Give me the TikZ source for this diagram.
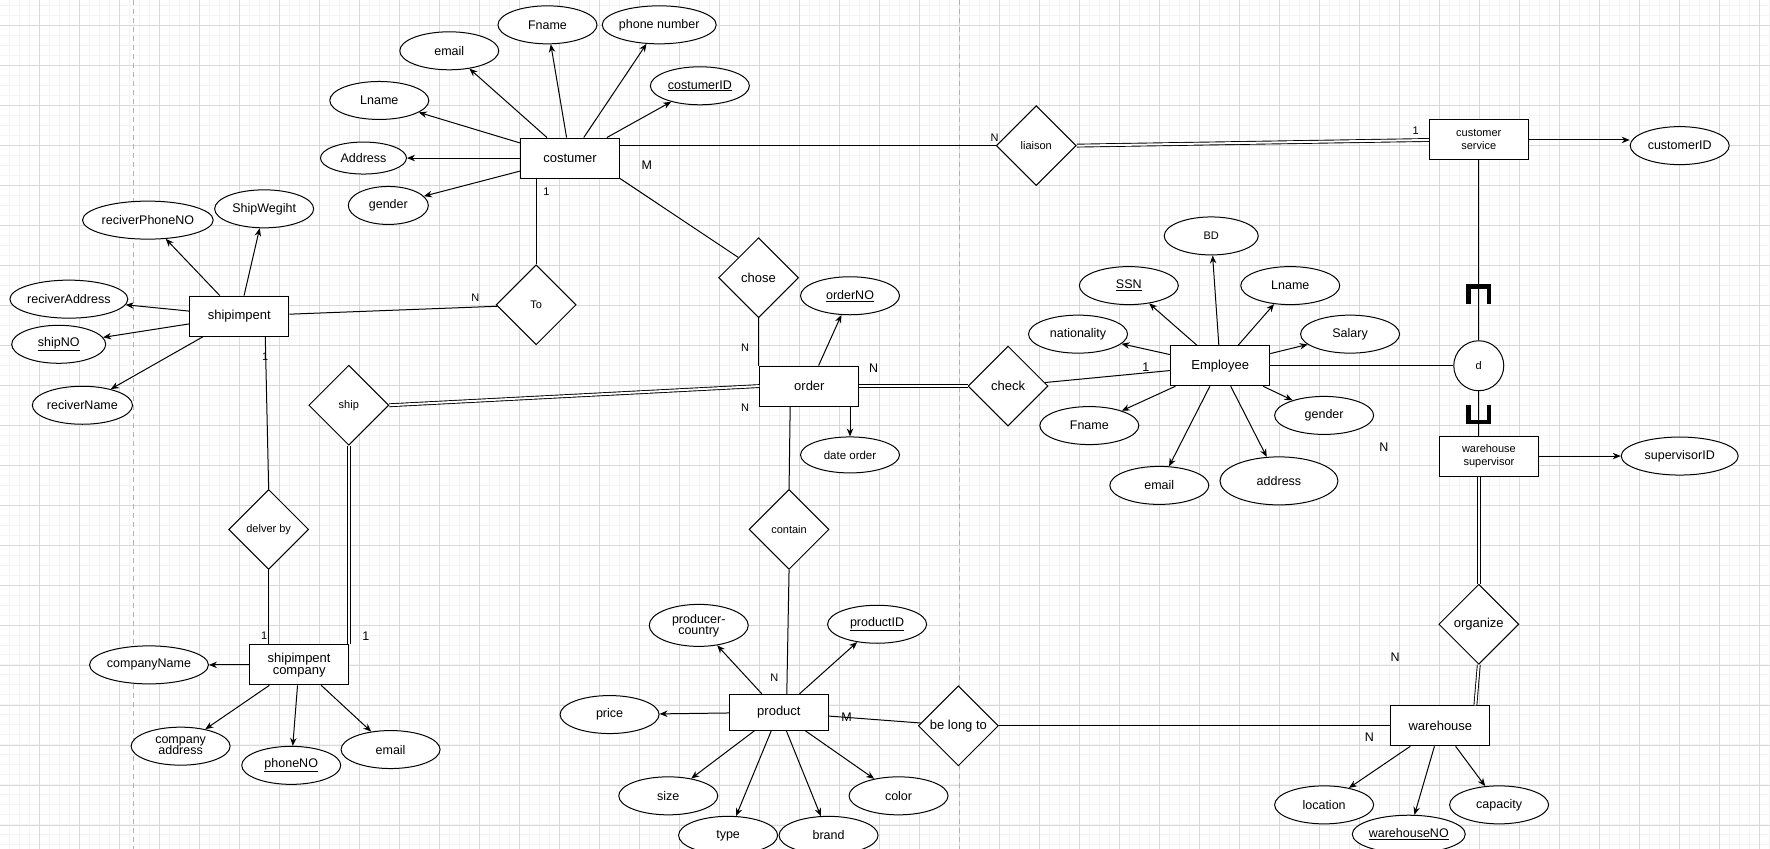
\documentclass[tikz,border=0pt]{standalone}
\usepackage{fontspec}
\setmainfont{Liberation Sans}
\usetikzlibrary{shapes.geometric,arrows.meta}
\begin{document}
\begin{tikzpicture}[x=1.1288pt,y=-1.1288pt,line width=1pt,
  ent/.style={draw,rectangle,fill=white,minimum width=99pt,minimum height=40pt,inner sep=1pt,font=\fontsize{13}{15}\selectfont,align=center},
  sent/.style={ent,font=\fontsize{11}{13}\selectfont},
  att/.style={draw,ellipse,fill=white,minimum width=99pt,minimum height=38pt,inner sep=0pt,font=\fontsize{12.5}{14}\selectfont,align=center},
  rel/.style={draw,diamond,fill=white,minimum width=80pt,minimum height=80pt,inner sep=0pt,font=\fontsize{13}{15}\selectfont},
  srel/.style={rel,font=\fontsize{11}{13}\selectfont},
  lab/.style={font=\fontsize{12.5}{14}\selectfont,inner sep=1pt},
  ar/.style={-{Stealth[length=8pt,width=6.5pt]}},
  dbl/.style={double,line width=0.9pt,double distance=2pt}]
\useasboundingbox (0,0) rectangle (1568,752);
\fill[white] (0,0) rectangle (1568,752);
\foreach \i in {0,...,177} \draw[gray!9,line width=0.4pt] ({\i*8.858-0.6},0) -- ({\i*8.858-0.6},752);
\foreach \i in {0,...,85} \draw[gray!9,line width=0.4pt] (0,{\i*8.858+4.2}) -- (1568,{\i*8.858+4.2});
\foreach \i in {0,...,45} \draw[gray!30,line width=0.6pt] ({\i*35.43-0.6},0) -- ({\i*35.43-0.6},752);
\foreach \i in {0,...,22} \draw[gray!30,line width=0.6pt] (0,{\i*35.43+22.1}) -- (1568,{\i*35.43+22.1});
\draw[gray!60,line width=1.2pt,dash pattern=on 5pt off 4pt] (118,0) -- (118,752);
\draw[gray!60,line width=1.2pt,dash pattern=on 5pt off 4pt] (850,0) -- (850,752);

% costumer
\node[ent] (cos) at (505,140) {costumer};
\node[att] (cfn) at (485,22) {Fname};
\node[att] (cph) at (584,22) {phone number};
\node[att] (cem) at (398,45) {email};
\node[att] (cid) at (620,76) {\underline{costumerID}};
\node[att] (cln) at (336,89) {Lname};
\node[att,minimum width=86pt,minimum height=32pt] (cad) at (322,140) {Address};
\node[att,minimum width=80pt] (cge) at (344,182) {gender};
\foreach \t in {cfn,cph,cem,cid,cln,cad,cge} \draw[ar] (cos) -- (\t);

% shipimpent
\node[ent] (shp) at (212,280) {shipimpent};
\node[att] (srp) at (131,195) {reciverPhoneNO};
\node[att] (ssw) at (234,185) {ShipWegiht};
\node[att] (sra) at (61,265) {reciverAddress};
\node[att,minimum width=94pt] (sno) at (52,305) {\underline{shipNO}};
\node[att] (srn) at (73,359) {reciverName};
\foreach \t in {srp,ssw,sra,sno,srn} \draw[ar] (shp) -- (\t);

% relations
\node[srel] (to) at (475,270) {To};
\node[rel] (chose) at (672,246) {chose};
\node[srel] (ship) at (309,359) {ship};
\node[srel] (dby) at (238,469) {delver by};
\node[rel] (check) at (893,342) {check};
\node[srel] (cont) at (699,469) {contain};
\node[srel] (lia) at (918,129) {liaison};
\node[rel] (blt) at (849,643) {be long to};
\node[rel] (org) at (1310,553) {organize};

% order
\node[ent] (ord) at (717,342) {order};
\node[att] (ono) at (753,262) {\underline{orderNO}};
\node[att,minimum height=36pt,font=\fontsize{11.5}{14}\selectfont] (odt) at (753,403) {date order};
\draw[ar] (ord) -- (ono);
\draw[ar] (ord.south -| odt.north) -- (odt);

% Employee
\node[ent] (emp) at (1081,324) {Employee};
\node[att,minimum width=94pt,font=\fontsize{11}{13}\selectfont] (ebd) at (1073,209) {BD};
\node[att] (essn) at (1000,253) {\underline{SSN}};
\node[att] (eln) at (1143,253) {Lname};
\node[att] (ena) at (955,296) {nationality};
\node[att] (esa) at (1196,296) {Salary};
\node[att] (efn) at (965,377) {Fname};
\node[att] (ege) at (1173,368) {gender};
\node[att] (eem) at (1027,430) {email};
\node[att,minimum width=118pt,minimum height=48pt] (ead) at (1133,426) {address};
\foreach \t in {ebd,essn,eln,ena,esa,efn,ege,eem,ead} \draw[ar] (emp) -- (\t);

% customer service etc.
\node[sent] (cs) at (1310,124) {customer\\service};
\node[att] (csid) at (1488,129) {customerID};
\draw[ar] (cs.east) -- (cs.east -| csid.west);
\node[draw,circle,fill=white,minimum size=50pt,inner sep=0pt,font=\fontsize{11}{13}\selectfont] (d) at (1310,324) {d};
\node[sent] (ws) at (1319,404) {warehouse\\supervisor};
\node[att,minimum width=117pt] (wsid) at (1488,404) {supervisorID};
\draw[ar] (ws) -- (wsid);

% warehouse
\node[ent] (wh) at (1276,643) {warehouse};
\node[att] (wloc) at (1173,713) {location};
\node[att] (wno) at (1248,739) {\underline{warehouseNO}};
\node[att] (wcap) at (1328,713) {capacity};
\foreach \t in {wloc,wno,wcap} \draw[ar] (wh) -- (\t);

% product
\node[ent,minimum height=36pt] (prd) at (690,631) {product};
\node[att,minimum height=42pt] (ppc) at (619,554) {producer-\\[-3pt]country};
\node[att] (pid) at (777,553) {\underline{productID}};
\node[att] (ppr) at (540,633) {price};
\node[att] (psz) at (592,705) {size};
\node[att] (pty) at (645,740) {type};
\node[att] (pbr) at (734,740) {brand};
\node[att] (pco) at (796,705) {color};
\foreach \t in {ppc,pid,ppr,psz,pty,pbr,pco} \draw[ar] (prd) -- (\t);

% shipimpent company
\node[ent] (sc) at (265,589) {shipimpent\\[-3pt]company};
\node[att] (scn) at (132,589) {companyName};
\node[att] (sca) at (160,661) {company\\[-3pt]address};
\node[att] (scp) at (258,678) {\underline{phoneNO}};
\node[att] (sce) at (346,664) {email};
\foreach \t in {scn,sca,scp,sce} \draw[ar] (sc) -- (\t);

% connectors
\draw (cos.east |- lia.west) -- (lia.west);
\draw[dbl] (lia.east) -- (cs.west);
\draw (cs) -- (d);
\draw (d) -- (ws.north -| d.south);
\draw (emp) -- (d);
\draw[line width=4.5pt] (1301,269) -- (1301,254) -- (1319,254) -- (1319,269);
\draw[line width=4.5pt] (1301,359) -- (1301,374) -- (1319,374) -- (1319,359);
\draw[dbl] (ws.south -| org.north) -- (org.north);
\draw[dbl] (org.south) -- (wh.north -| 1307,0);
\draw (wh) -- (blt);
\draw (blt) -- (prd);
\draw (prd.north -| 697,0) -- (cont.south);
\draw (cont.north) -- (ord.south -| 700,0);
\draw (ord.north -| chose.south) -- (chose.south);
\draw (chose.north west) -- (cos.south east);
\draw[dbl] (ord) -- (check);
\draw (check) -- (emp);
\draw[dbl] (ship.east) -- (ord.west);
\draw[dbl] (ship.south) -- (ship.south |- sc.north);
\draw (shp) -- (to);
\draw (to.north) -- (to.north |- cos.south);
\draw (shp.south -| 235,0) -- (dby.north);
\draw (dby.south) -- (dby.south |- sc.north);

% labels
\node[lab,font=\fontsize{11}{13}\selectfont] (l1) at (881,122) {N};
\node[lab,font=\fontsize{11}{13}\selectfont] (l2) at (1254,116) {1};
\node[lab] (l3) at (1226,396) {N};
\node[lab] (l4) at (1236,582) {N};
\node[lab] (l5) at (1213,653) {N};
\node[lab] (l6) at (750,635) {M};
\node[lab,font=\fontsize{11}{13}\selectfont] (l7) at (686,600) {N};
\node[lab,font=\fontsize{11}{13}\selectfont] (l8) at (660,308) {N};
\node[lab] (l9) at (573,146) {M};
\node[lab] (l10) at (774,326) {N};
\node[lab] (l11) at (1015,325) {1};
\node[lab,font=\fontsize{11}{13}\selectfont] (l12) at (660,361) {N};
\node[lab] (l13) at (324,564) {1};
\node[lab,font=\fontsize{11}{13}\selectfont] (l14) at (421,264) {N};
\node[lab,font=\fontsize{11}{13}\selectfont] (l15) at (484,170) {1};
\node[lab,font=\fontsize{11}{13}\selectfont] (l16) at (235,316) {1};
\node[lab,font=\fontsize{11}{13}\selectfont] (l17) at (234,563) {1};
\end{tikzpicture}
\end{document}
